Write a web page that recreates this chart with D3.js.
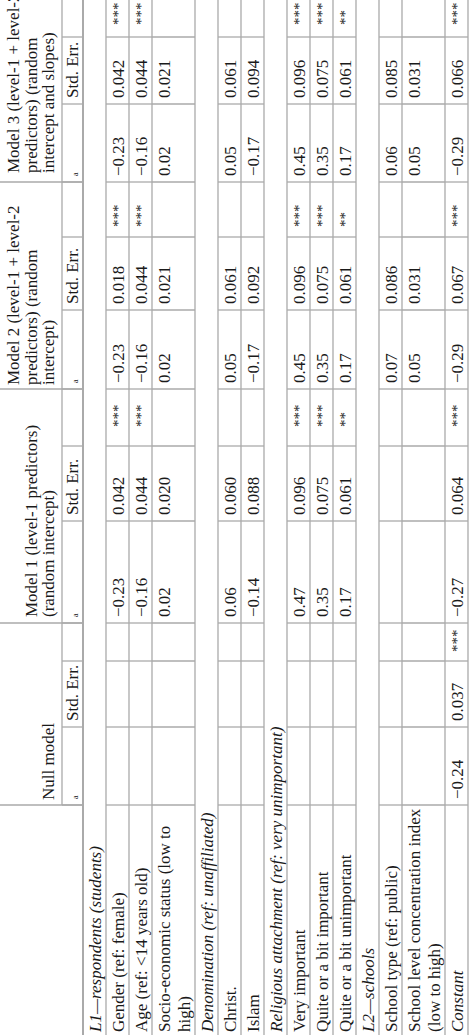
<!DOCTYPE html>
<html><head><meta charset="utf-8">
<script src="https://cdn.jsdelivr.net/npm/d3@7"></script>
<style>body{margin:0;background:#fff}svg{display:block}</style>
</head><body>
<script>
// ---- data ----
const rowLabels = [
  ["L1—respondents (students)"],
  ["Gender (ref: female)"],
  ["Age (ref: <14 years old)"],
  ["Socio-economic status (low to","high)"],
  ["Denomination (ref: unaffiliated)"],
  ["Christ."],
  ["Islam"],
  ["Religious attachment (ref: very unimportant)"],
  ["Very important"],
  ["Quite or a bit important"],
  ["Quite or a bit unimportant"],
  ["L2—schools"],
  ["School type (ref: public)"],
  ["School level concentration index","(low to high)"],
  ["Constant"]
];
const sectionRow = [true,false,false,false,true,false,false,true,false,false,false,true,false,false,false];
const italicRow  = [true,false,false,false,true,false,false,true,false,false,false,true,false,false,true];
const modelTitles = [
  ["Null model"],
  ["Model 1 (level-1 predictors)","(random intercept)"],
  ["Model 2 (level-1 + level-2","predictors) (random","intercept)"],
  ["Model 3 (level-1 + level-2","predictors) (random","intercept and slopes)"]
];
const subHeaders = ["a","Std. Err.",""];
const nullA   = ["","","","","","","","","","","","","","","−0.24"];
const nullSE  = ["","","","","","","","","","","","","","","0.037"];
const nullSig = ["","","","","","","","","","","","","","","***"];
const m1A   = ["","−0.23","−0.16","0.02","","0.06","−0.14","","0.47","0.35","0.17","","","","−0.27"];
const m1SE  = ["","0.042","0.044","0.020","","0.060","0.088","","0.096","0.075","0.061","","","","0.064"];
const m1Sig = ["","***","***","","","","","","***","***","**","","","","***"];
const m2A   = ["","−0.23","−0.16","0.02","","0.05","−0.17","","0.45","0.35","0.17","","0.07","0.05","−0.29"];
const m2SE  = ["","0.018","0.044","0.021","","0.061","0.092","","0.096","0.075","0.061","","0.086","0.031","0.067"];
const m2Sig = ["","***","***","","","","","","***","***","**","","","","***"];
const m3A   = ["","−0.23","−0.16","0.02","","0.05","−0.17","","0.45","0.35","0.17","","0.06","0.05","−0.29"];
const m3SE  = ["","0.042","0.044","0.021","","0.061","0.094","","0.096","0.075","0.061","","0.085","0.031","0.066"];
const m3Sig = ["","***","***","","","","","","***","***","**","","","","***"];
const models = [[nullA,nullSE,nullSig],[m1A,m1SE,m1Sig],[m2A,m2SE,m2Sig],[m3A,m3SE,m3Sig]];

// ---- layout (table coordinates, rotated afterwards) ----
const W = 474, H = 1035;
const colEdges = [0,230,308,374,412,514,589,646,725,798,853,931,998,1045];
const starOff = [9,19,10,12];
const rowSpans = [1,1,1,2,1,1,1,1,1,1,1,1,1,2,1];
const headTop = 83;
const rowPx = rowSpans.map(s=> s===2 ? 43 : 23);
const edges = [headTop]; rowPx.forEach(h=>edges.push(edges[edges.length-1]+h));

const svg = d3.select("body").append("svg").attr("width",W).attr("height",H);
const g = svg.append("g").attr("transform",`translate(0,${H}) rotate(-90)`);
const LC = "#aaaaaa", TC = "#1a1a1a", FF = "'Liberation Serif','Times New Roman',serif";

function line(x1,y1,x2,y2,w){g.append("line").attr("x1",x1).attr("y1",y1).attr("x2",x2).attr("y2",y2).attr("stroke",LC).attr("stroke-width",w||1.3);}

line(230,62,H,62);
line(0,83,H,83,2);
edges.slice(1).forEach(y=>line(0,y,H,y));
[230,412,646,853].forEach(x=>line(x,0,x,83));
colEdges.slice(1,-1).forEach(x=>line(x,62,x,83));
rowPx.forEach((h,i)=>{ if(sectionRow[i]) return;
  colEdges.slice(1,-1).forEach(x=>line(x,edges[i],x,edges[i+1])); });

function txt(x,y,s,opt){opt=opt||{};
  g.append("text").attr("x",x).attr("y",y).text(s).attr("font-family",FF)
   .attr("font-size",opt.size||17).attr("fill",TC).attr("font-style",opt.italic?"italic":"normal");}

const titleX = [235,418,650,862];
modelTitles.forEach((t,m)=>{ const n=t.length;
  t.forEach((s,k)=>txt(titleX[m], 54-(n-1-k)*17.5, s)); });
for(let m=0;m<4;m++){
  const c = 1+m*3;
  txt(colEdges[c]+6,78,subHeaders[0],{size:8});
  txt(colEdges[c+1]+6,78,subHeaders[1]);
}
rowLabels.forEach((ls,i)=>{
  ls.forEach((s,k)=>txt(3, edges[i]+18+k*20, s, {italic:italicRow[i]}));
  models.forEach((arr,m)=>{
    const c = 1+m*3, y = edges[i]+18;
    if(arr[0][i]) txt(colEdges[c]+6,y,arr[0][i]);
    if(arr[1][i]) txt(colEdges[c+1]+6,y,arr[1][i]);
    if(arr[2][i]) txt(colEdges[c+2]+starOff[m],y-1,arr[2][i],{size:15});
  });
});
</script>
</body></html>
